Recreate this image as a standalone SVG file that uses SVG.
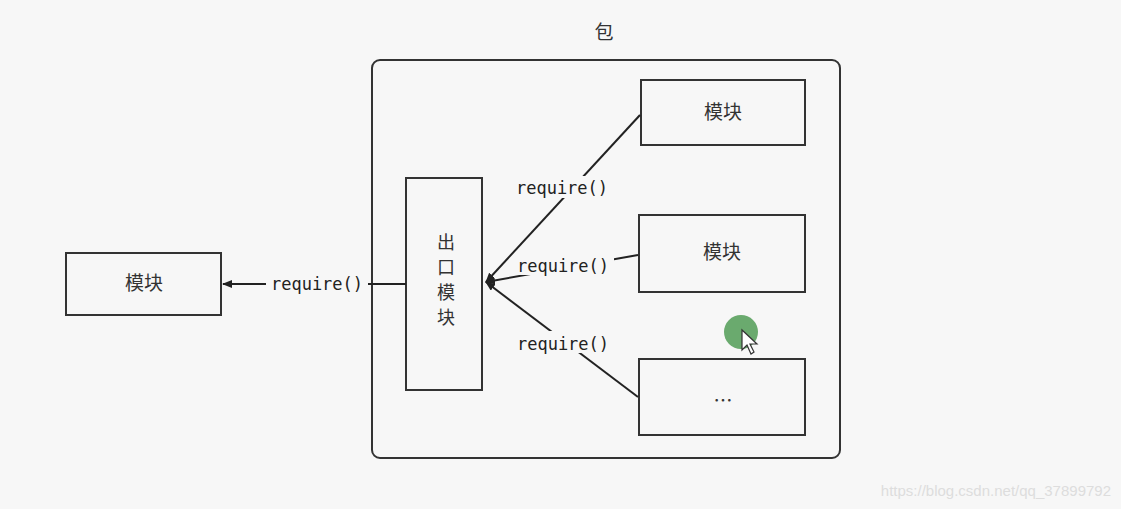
<svg xmlns="http://www.w3.org/2000/svg" width="1121" height="509" viewBox="0 0 1121 509">
<style>
.b{fill:none;stroke:#333;stroke-width:2}
.l{stroke:#222;stroke-width:2;fill:none}
.t{font-family:"Noto Sans CJK SC",sans-serif;font-size:19px;fill:#333;text-anchor:middle}
.v{font-family:"Noto Sans CJK SC",sans-serif;font-size:18px;fill:#333;text-anchor:middle}
.m{font-family:"DejaVu Sans Mono","Liberation Mono",monospace;font-size:17px;fill:#222;text-anchor:middle}
.bg{fill:#f7f7f7}
</style>
<defs><marker id="a" markerWidth="10" markerHeight="8" refX="9" refY="4" orient="auto" markerUnits="userSpaceOnUse"><path d="M0,0L10,4L0,8z" fill="#222"/></marker></defs>
<rect width="1121" height="509" fill="#f7f7f7"/>
<text class="t" x="604" y="39">包</text>
<g id="pkg"><rect class="b" x="372" y="60" width="468" height="398" rx="8"/></g>
<g id="exit"><rect class="b" x="406" y="178" width="76" height="212"/>
<text class="v" x="446" y="249">出</text><text class="v" x="446" y="274">口</text><text class="v" x="446" y="299">模</text><text class="v" x="446" y="324">块</text></g>
<g id="m1"><rect class="b" x="641" y="80" width="164" height="65"/><text class="t" x="723" y="119">模块</text></g>
<g id="m2"><rect class="b" x="639" y="215" width="166" height="77"/><text class="t" x="722" y="259">模块</text></g>
<g id="m3"><rect class="b" x="639" y="359" width="166" height="76"/><text class="t" x="723" y="408">…</text></g>
<g id="left"><rect class="b" x="66" y="253" width="155" height="62"/><text class="t" x="144" y="290">模块</text></g>
<g id="connectors">
<line class="l" x1="640" y1="115" x2="486" y2="282" marker-end="url(#a)"/>
<line class="l" x1="638" y1="255" x2="486" y2="282" marker-end="url(#a)"/>
<line class="l" x1="638" y1="397" x2="486" y2="282" marker-end="url(#a)"/>
<line class="l" x1="406" y1="284" x2="223" y2="284" marker-end="url(#a)"/>
<rect class="bg" x="514" y="176" width="96" height="22"/>
<rect class="bg" x="514" y="253" width="100" height="22"/>
<rect class="bg" x="514" y="331" width="98" height="22"/>
<rect class="bg" x="266" y="273" width="102" height="22"/>
<text class="m" x="562" y="194">require()</text>
<text class="m" x="563" y="272">require()</text>
<text class="m" x="563" y="350">require()</text>
<text class="m" x="317" y="290">require()</text>
</g>
<circle cx="741" cy="332" r="17" fill="#6aaa6e"/>
<path d="M742,330 L742,350 L747,345 L751,354 L754,352 L750,344 L757,344 Z" fill="#fff" stroke="#333" stroke-width="1.2"/>
<text x="1111" y="496" font-family="Liberation Sans,sans-serif" font-size="15" fill="#ddd" text-anchor="end">https://blog.csdn.net/qq_37899792</text>
</svg>
